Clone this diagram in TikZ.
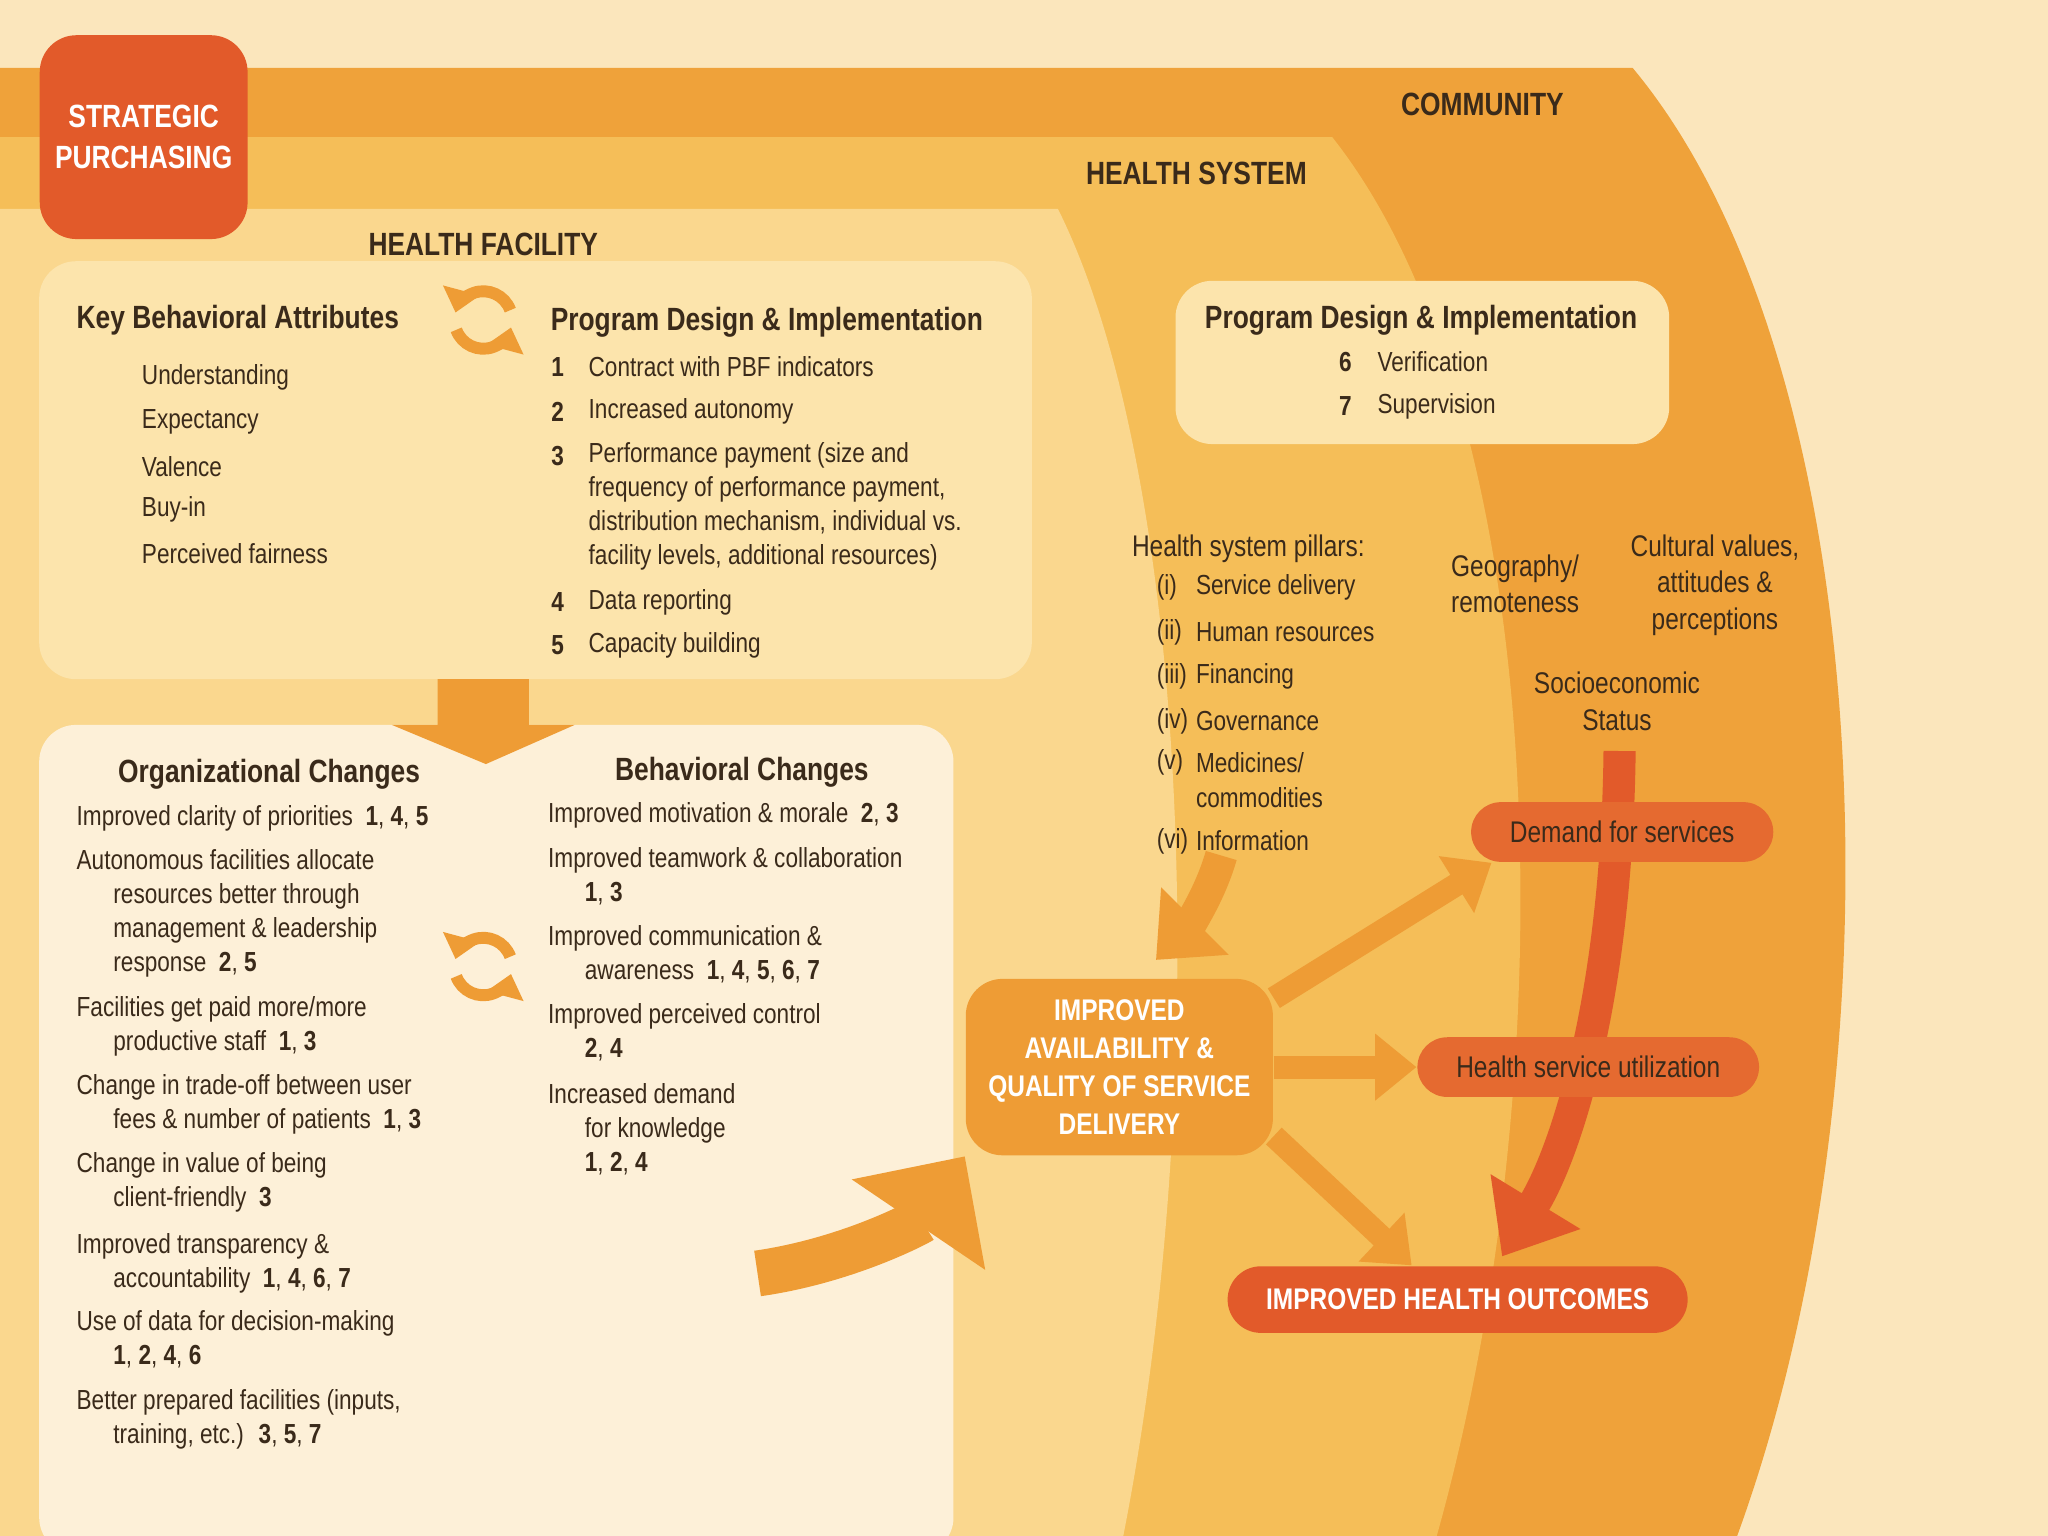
\documentclass[tikz,border=0pt]{standalone}
\usepackage{fontspec}
\setmainfont{Liberation Sans}[FakeStretch=0.82]
\usetikzlibrary{arrows.meta,shapes.misc}
\definecolor{bg}{HTML}{FBE6BC}
\definecolor{comm}{HTML}{EFA23A}
\definecolor{hsys}{HTML}{F5BE58}
\definecolor{hfac}{HTML}{FAD78E}
\definecolor{boxa}{HTML}{FCE4AC}
\definecolor{boxb}{HTML}{FDF0D8}
\definecolor{redo}{HTML}{E25A2A}
\definecolor{oval}{HTML}{E56A30}
\definecolor{arr}{HTML}{EE9C35}
\definecolor{txt}{HTML}{3A2A1A}
\newcommand\bn[1]{\textbf{#1}}
\tikzset{
 bodyt/.style={font=\fontsize{6}{7.4}\selectfont,text=txt,inner sep=0pt,align=left},
 itm/.style={bodyt,anchor=north west},
 head/.style={font=\fontsize{7}{8}\selectfont\bfseries,text=txt,inner sep=0pt},
 ovalbox/.style={rounded rectangle,fill=oval,text=txt,font=\fontsize{6.5}{8}\selectfont,minimum height=13pt,inner xsep=8pt},
 fat/.style={arr,line width=5pt,-{Triangle[length=9pt,width=14pt]}},
 numt/.style={bodyt,font=\fontsize{6}{7.4}\selectfont\bfseries},
}
\begin{document}
\begin{tikzpicture}[x=0.01cm,y=-0.01cm]
\useasboundingbox (0,0) rectangle (1568,1176);
\fill[bg] (0,0) rectangle (1568,1176);
% bands
\fill[comm] (0,52) -- (1250,52) .. controls (1440,280) and (1460,820) .. (1330,1176) -- (0,1176) -- cycle;
\fill[hsys] (0,105) -- (1020,105) .. controls (1190,320) and (1200,820) .. (1100,1176) -- (0,1176) -- cycle;
\fill[hfac] (0,160) -- (810,160) .. controls (910,360) and (930,820) .. (860,1176) -- (0,1176) -- cycle;
% boxes
\fill[boxa,rounded corners=8pt] (30,200) rectangle (790,520);
\fill[boxb,rounded corners=8pt] (30,555) rectangle (730,1190);
\fill[boxa,rounded corners=8pt] (900,215) rectangle (1278,340);
% strategic purchasing
\node[fill=redo,rounded corners=8pt,text=white,font=\fontsize{7}{9}\selectfont\bfseries,align=center,minimum width=1.56cm,minimum height=1.56cm] (sp) at (110,105) {STRATEGIC\\PURCHASING};
\node[head] (comm) at (1135,80) {COMMUNITY};
\node[head] (hs) at (916,133) {HEALTH SYSTEM};
\node[head] (hf) at (370,187) {HEALTH FACILITY};
% key behavioral attributes
\node[head,anchor=west] (kba) at (58,245) {Key Behavioral Attributes};
\node[bodyt,anchor=west] at (108,289) {Understanding};
\node[bodyt,anchor=west] at (108,323) {Expectancy};
\node[bodyt,anchor=west] at (108,357) {Valence};
\node[bodyt,anchor=west] at (108,390) {Buy-in};
\node[bodyt,anchor=west] at (108,424) {Perceived fairness};
% cycle icons
\foreach \cy/\nm in {245/c1,740/c2}{
  \coordinate (\nm) at (370,\cy);
  \draw[arr,line width=2.6pt,-{Triangle[length=5pt,width=8pt]}] (\nm) ++(160:22) arc[start angle=160,end angle=15,radius=22];
  \draw[arr,line width=2.6pt,-{Triangle[length=5pt,width=8pt]}] (\nm) ++(340:22) arc[start angle=340,end angle=195,radius=22];
}
% program design left
\node[head,anchor=west] (pd) at (421,247) {Program Design \& Implementation};
\node[numt] at (427,281) {1}; \node[bodyt,anchor=west] at (450,281) {Contract with PBF indicators};
\node[numt] at (427,315) {2}; \node[bodyt,anchor=west] at (450,315) {Increased autonomy};
\node[numt] at (427,349) {3};
\node[itm] at (450,338) {Performance payment (size and\\frequency of performance payment,\\distribution mechanism, individual vs.\\facility levels, additional resources)};
\node[numt] at (427,461) {4}; \node[bodyt,anchor=west] at (450,461) {Data reporting};
\node[numt] at (427,494) {5}; \node[bodyt,anchor=west] at (450,494) {Capacity building};
% down arrow
\fill[arr] (335,520)--(405,520)--(405,555)--(440,555)--(372,585)--(300,555)--(335,555)--cycle;
% organizational
\node[head] (oc) at (206,593) {Organizational Changes};
\node[itm] at (58,616) {Improved clarity of priorities \ \bn{1}, \bn{4}, \bn{5}};
\node[itm] at (58,650) {Autonomous facilities allocate\\\hspace*{8pt}resources better through\\\hspace*{8pt}management \& leadership\\\hspace*{8pt}response \ \bn{2}, \bn{5}};
\node[itm] at (58,762) {Facilities get paid more/more\\\hspace*{8pt}productive staff \ \bn{1}, \bn{3}};
\node[itm] at (58,822) {Change in trade-off between user\\\hspace*{8pt}fees \& number of patients \ \bn{1}, \bn{3}};
\node[itm] at (58,882) {Change in value of being\\\hspace*{8pt}client-friendly \ \bn{3}};
\node[itm] at (58,944) {Improved transparency \&\\\hspace*{8pt}accountability \ \bn{1}, \bn{4}, \bn{6}, \bn{7}};
\node[itm] at (58,1003) {Use of data for decision-making\\\hspace*{8pt}\bn{1}, \bn{2}, \bn{4}, \bn{6}};
\node[itm] at (58,1063) {Better prepared facilities (inputs,\\\hspace*{8pt}training, etc.) \ \bn{3}, \bn{5}, \bn{7}};
% behavioral
\node[head] (bc) at (568,591) {Behavioral Changes};
\node[itm] at (419,614) {Improved motivation \& morale \ \bn{2}, \bn{3}};
\node[itm] at (419,648) {Improved teamwork \& collaboration\\\hspace*{8pt}\bn{1}, \bn{3}};
\node[itm] at (419,708) {Improved communication \&\\\hspace*{8pt}awareness \ \bn{1}, \bn{4}, \bn{5}, \bn{6}, \bn{7}};
\node[itm] at (419,768) {Improved perceived control\\\hspace*{8pt}\bn{2}, \bn{4}};
\node[itm] at (419,829) {Increased demand\\\hspace*{8pt}for knowledge\\\hspace*{8pt}\bn{1}, \bn{2}, \bn{4}};
% right program design
\node[head] (pd2) at (1088,245) {Program Design \& Implementation};
\node[numt] at (1030,277) {6}; \node[bodyt,anchor=west] at (1054,277) {Verification};
\node[numt] at (1030,311) {7}; \node[bodyt,anchor=west] at (1054,311) {Supervision};
% pillars
\node[bodyt,anchor=west,font=\fontsize{6.5}{8}\selectfont] (hsp) at (866,420) {Health system pillars:};
\node[bodyt,anchor=west] at (885,450) {(i)};   \node[bodyt,anchor=west] at (915,450) {Service delivery};
\node[bodyt,anchor=west] at (885,484) {(ii)};  \node[bodyt,anchor=west] at (915,484) {Human resources};
\node[bodyt,anchor=west] at (885,518) {(iii)}; \node[bodyt,anchor=west] at (915,518) {Financing};
\node[bodyt,anchor=west] at (885,552) {(iv)};  \node[bodyt,anchor=west] at (915,552) {Governance};
\node[bodyt,anchor=west] at (885,584) {(v)};   \node[bodyt,anchor=west] at (915,584) {Medicines/};
\node[bodyt,anchor=west] at (915,611) {commodities};
\node[bodyt,anchor=west] at (885,644) {(vi)};  \node[bodyt,anchor=west] at (915,644) {Information};
\node[bodyt,align=center,font=\fontsize{6.5}{8}\selectfont] at (1160,447) {Geography/\\remoteness};
\node[bodyt,align=center,font=\fontsize{6.5}{8}\selectfont] at (1313,448) {Cultural values,\\attitudes \&\\perceptions};
\node[bodyt,align=center,font=\fontsize{6.5}{8}\selectfont] (soc) at (1238,537) {Socioeconomic\\Status};
% red arrow behind ovals
\coordinate (rs) at (1240,575);
\coordinate (re) at (1150,962);
\draw[redo,line width=7pt,-{Triangle[length=14pt,width=22pt]}] (rs) .. controls (1238,760) and (1200,880) .. (re);
% outcome nodes
\node[fill=arr,rounded corners=8pt,text=white,font=\fontsize{6.5}{8.3}\selectfont\bfseries,align=center,minimum width=2.35cm,minimum height=1.35cm] (av) at (857,817) {IMPROVED\\AVAILABILITY \&\\QUALITY OF SERVICE\\DELIVERY};
\node[ovalbox,minimum width=2.17cm] (dem) at (1242,637) {Demand for services};
\node[ovalbox,minimum width=2.57cm] (util) at (1216,817) {Health service utilization};
\node[ovalbox,fill=redo,text=white,font=\fontsize{6.5}{8}\selectfont\bfseries,minimum width=3.42cm,minimum height=14.5pt] (out) at (1116,995) {IMPROVED HEALTH OUTCOMES};
% arrows
\draw[fat] ([yshift=15]av.east) -- ([xshift=-1cm]dem.south);
\draw[fat] (av.east) -- (util.west);
\draw[fat] ([yshift=-15]av.east) -- ([xshift=-10]out.north);
\coordinate (pa) at (935,655);
\draw[arr,line width=7pt,-{Triangle[length=12pt,width=20pt]}] (pa) .. controls (925,690) and (905,715) .. (885,735);
\coordinate (ca) at (580,975);
\draw[arr,line width=10pt,-{Triangle[length=18pt,width=34pt]}] (ca) .. controls (650,965) and (705,935) .. (av.south west);
\end{tikzpicture}
\end{document}
